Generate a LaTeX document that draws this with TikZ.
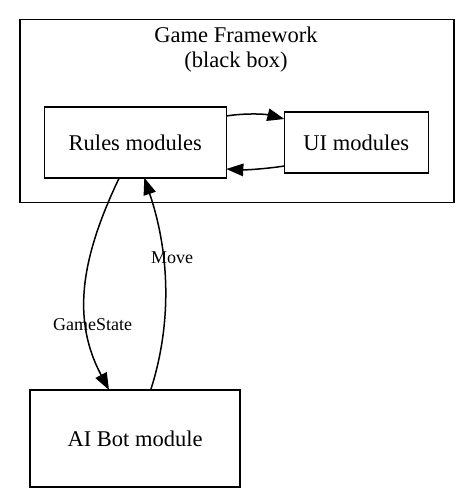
\documentclass[tikz,border=0pt]{standalone}
\usepackage{fontspec}
\setmainfont{Liberation Serif}
\usetikzlibrary{arrows.meta}
\begin{document}
\begin{tikzpicture}[x=1pt,y=-1pt,
  box/.style={draw,line width=1.6pt,inner sep=0pt},
  big/.style={font=\fontsize{22.5}{25}\selectfont},
  small/.style={font=\fontsize{18}{20}\selectfont,inner sep=0pt},
  conn/.style={line width=1.5pt,-{Triangle[length=17pt,width=12.5pt]}}]
\useasboundingbox (0,0) rectangle (474,495);
\draw[box] (19.7,19.7) rectangle (454,202.3);
\node[big,align=center] (title) at (236,50) {Game Framework\\(black box)};
\node[box,big,minimum width=182pt,minimum height=70.5pt] (rules) at (135.3,142.5) {Rules modules};
\node[box,big,minimum width=144pt,minimum height=60.5pt] (ui) at (356.3,142.5) {UI modules};
\node[box,big,minimum width=210pt,minimum height=97pt] (ai) at (135,438.5) {AI Bot module};
\coordinate (r1) at (226.3,116);
\coordinate (u1) at (284.3,119);
\coordinate (u2) at (284.3,166);
\coordinate (r2) at (226.3,169);
\draw[conn] (r1) .. controls (245,113) and (265,114) .. (u1);
\draw[conn] (u2) .. controls (265,169) and (245,170) .. (r2);
\coordinate (rb1) at (119.3,177.7);
\coordinate (ab1) at (109,390);
\coordinate (ab2) at (150.7,390);
\coordinate (rb2) at (144.3,177.7);
\draw[conn] (rb1) .. controls (80,260) and (72,320) .. (ab1);
\draw[conn] (ab2) .. controls (170,330) and (172,260) .. (rb2);
\node[small] (gs) at (92.5,325) {GameState};
\node[small] (mv) at (172,258) {Move};
\end{tikzpicture}
\end{document}
